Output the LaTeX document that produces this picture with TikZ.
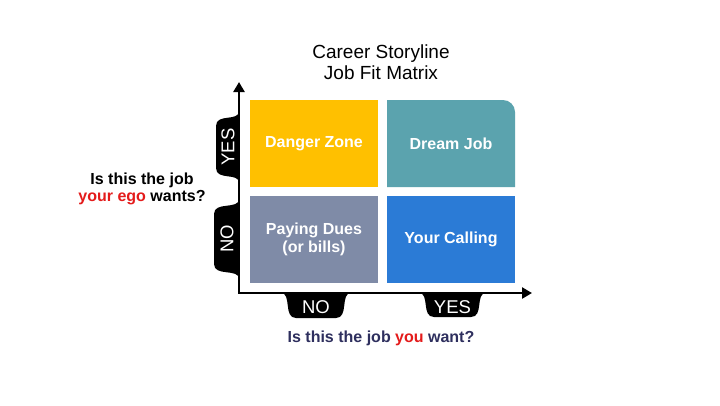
\documentclass[tikz,border=0pt]{standalone}
\usepackage{fontspec}
\setmainfont{Liberation Sans}
\usetikzlibrary{arrows.meta}
\definecolor{dangerc}{HTML}{FFC000}
\definecolor{dreamc}{HTML}{5BA3AE}
\definecolor{duesc}{HTML}{7F8BA7}
\definecolor{callc}{HTML}{2B7BD6}
\definecolor{navyc}{HTML}{2E2F5E}
\definecolor{redc}{HTML}{E41B1B}
\begin{document}
\begin{tikzpicture}[x=1pt,y=-1pt,
  quad/.style={minimum width=128pt,minimum height=87pt,inner sep=0pt,text=white,
    font=\fontsize{16}{18.5}\selectfont\bfseries,align=center},
  quadtext/.style={text=white,font=\fontsize{16}{18.5}\selectfont\bfseries,align=center},
  tablabel/.style={text=white,font=\fontsize{18.5}{19}\selectfont,inner sep=0pt},
  tabshape/.style={fill=black},
  axislabel/.style={font=\fontsize{16}{17}\selectfont\bfseries,align=center},
  axisline/.style={line width=2.5pt,{Triangle[length=10pt,width=11pt]}-{Triangle[length=10pt,width=11pt]}}
]
\useasboundingbox[fill=white] (0,0) rectangle (720,405);

% title
\node[font=\fontsize{19}{21.5}\selectfont,align=center] (title) at (381,62) {Career Storyline\\Job Fit Matrix};

% quadrants
\node[quad,fill=dangerc] (danger) at (314,143.5) {Danger Zone};
\fill[dreamc] (387,187) -- (387,100) [rounded corners=12pt] -- (515,100) [sharp corners] -- (515,187) -- cycle;
\node[quadtext] (dream) at (451,143.5) {Dream Job};
\node[quad,fill=duesc] (dues) at (314,239.5) {Paying Dues\\(or bills)};
\node[quad,fill=callc] (calling) at (451,239.5) {Your Calling};

% axes
\coordinate (ytip) at (239,82);
\coordinate (origin) at (239,293);
\coordinate (xtip) at (532,293);
\draw[axisline] (ytip) -- (origin) -- (xtip);

% vertical tabs (left of axis)
\fill[tabshape] (239,111) .. controls (239,122) and (216,113) .. (216,126)
  -- (216,168) .. controls (216,181) and (239,172) .. (239,183) -- cycle;
\node[tablabel,rotate=90] (yyes) at (228,147) {YES};
\fill[tabshape] (239,199) .. controls (239,210) and (214,201) .. (214,214)
  -- (214,264) .. controls (214,277) and (239,268) .. (239,279) -- cycle;
\node[tablabel,rotate=90] (yno) at (227,239) {NO};

% horizontal tabs (below axis)
\fill[tabshape] (281,293) .. controls (292,293) and (283,318) .. (296,318)
  -- (336,318) .. controls (349,318) and (340,293) .. (351,293) -- cycle;
\node[tablabel] (xno) at (316,307.5) {NO};
\fill[tabshape] (419,293) .. controls (430,293) and (421,317) .. (434,317)
  -- (471,317) .. controls (484,317) and (475,293) .. (486,293) -- cycle;
\node[tablabel] (xyes) at (452.5,307) {YES};

% axis labels
\node[axislabel] (ylabel) at (142,189) {Is this the job\\\textcolor{redc}{your ego} wants?};
\node[axislabel,text=navyc] (xlabel) at (381,338) {Is this the job \textcolor{redc}{you} want?};
\end{tikzpicture}
\end{document}
